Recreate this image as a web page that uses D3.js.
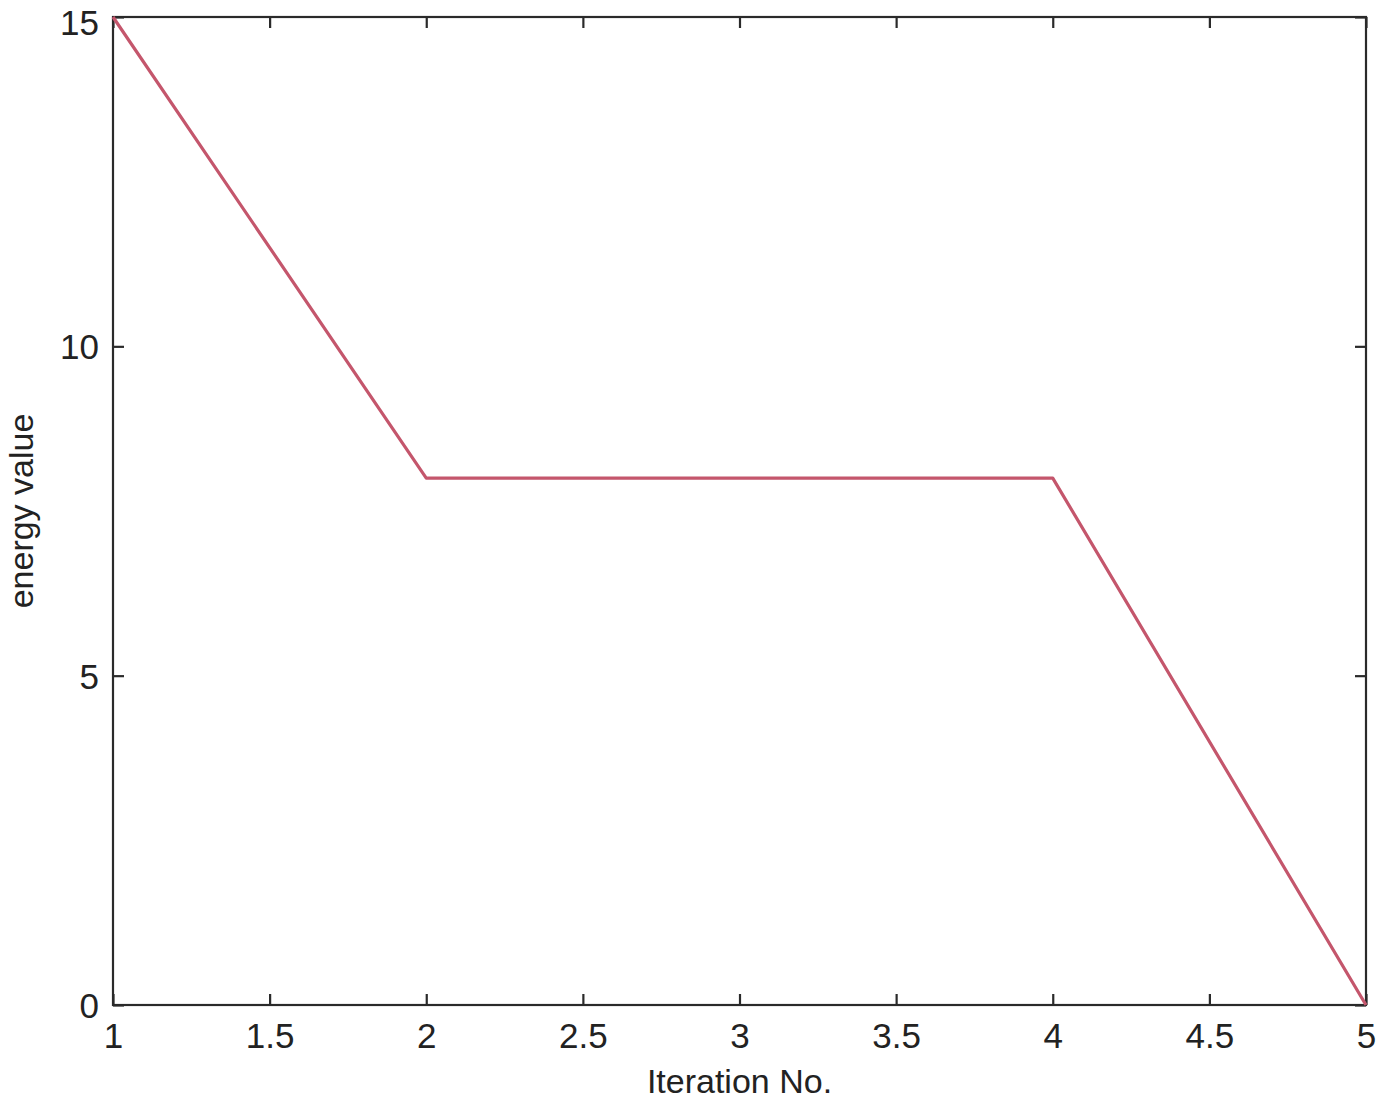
<!DOCTYPE html>
<html><head><meta charset="utf-8">
<script src="https://cdn.jsdelivr.net/npm/d3@7"></script>
<style>html,body{margin:0;padding:0;background:#fff;overflow:hidden}</style>
</head><body>
<svg id="c" width="1378" height="1103"></svg>
<script>
const iterations = [1, 2, 3, 4, 5];
const energy = [15, 8, 8, 8, 0];
const xTicks = [1, 1.5, 2, 2.5, 3, 3.5, 4, 4.5, 5];
const yTicks = [0, 5, 10, 15];

const svg = d3.select("#c");
const L = 113, R = 1366, T = 17, B = 1005;
const x = d3.scaleLinear().domain([1, 5]).range([L, R]);
const y = d3.scaleLinear().domain([0, 15]).range([B, T]);
const font = "'Liberation Sans', Arial, sans-serif";
const axisCol = "#2a2a2a";
const tl = 11;

// frame
svg.append("rect").attr("x", L).attr("y", T).attr("width", R - L).attr("height", B - T)
  .attr("fill", "none").attr("stroke", axisCol).attr("stroke-width", 2.2);

// bottom axis
const bx = svg.append("g").attr("transform", `translate(0,${B})`)
  .call(d3.axisBottom(x).tickValues(xTicks).tickSize(-tl).tickPadding(18).tickFormat(d3.format("")));
// left axis
const ly = svg.append("g").attr("transform", `translate(${L},0)`)
  .call(d3.axisLeft(y).tickValues(yTicks).tickSize(-tl).tickPadding(14).tickFormat(d3.format("")));
// top & right mirror ticks
const tx = svg.append("g").attr("transform", `translate(0,${T})`)
  .call(d3.axisTop(x).tickValues(xTicks).tickSize(-tl).tickFormat(""));
const ry = svg.append("g").attr("transform", `translate(${R},0)`)
  .call(d3.axisRight(y).tickValues(yTicks).tickSize(-tl).tickFormat(""));

[bx, ly, tx, ry].forEach(g => {
  g.select(".domain").remove();
  g.selectAll(".tick line").attr("stroke", axisCol).attr("stroke-width", 2.2);
  g.selectAll(".tick text").attr("fill", "#222").style("font-family", font).style("font-size", "35px");
});
ly.selectAll(".tick text").attr("dy", "0.36em");
ly.selectAll(".tick").filter(d => d === 15).select("text").attr("dy", "0.5em");

// line
svg.append("path")
  .datum(iterations.map((d, i) => [d, energy[i]]))
  .attr("fill", "none").attr("stroke", "#c4566c").attr("stroke-width", 3.2)
  .attr("stroke-linejoin", "round")
  .attr("d", d3.line().x(d => x(d[0])).y(d => y(d[1])));

// labels
svg.append("text").attr("x", (L + R) / 2).attr("y", 1093).attr("text-anchor", "middle")
  .attr("fill", "#222").style("font-family", font).style("font-size", "34px").text("Iteration No.");
svg.append("text").attr("transform", `translate(33,${(T + B) / 2}) rotate(-90)`).attr("text-anchor", "middle")
  .attr("fill", "#222").style("font-family", font).style("font-size", "34px").text("energy value");
</script>
</body></html>
